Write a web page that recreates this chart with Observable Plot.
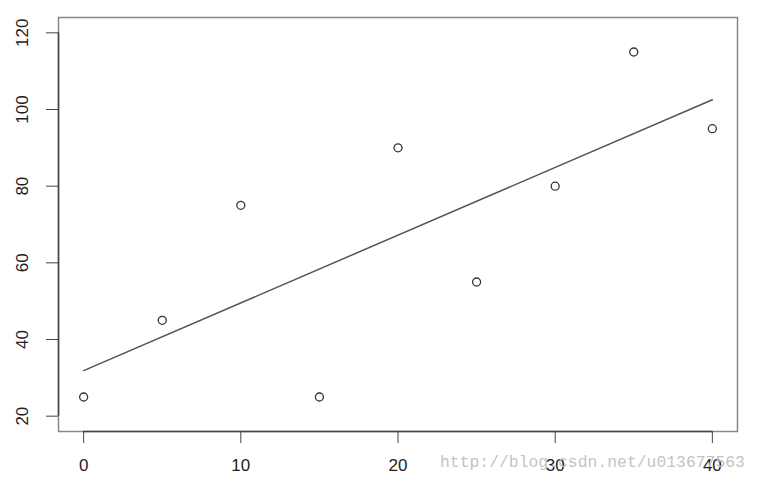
<!DOCTYPE html>
<html>
<head>
<meta charset="utf-8">
<script src="https://cdn.jsdelivr.net/npm/d3@7"></script>
<script src="https://cdn.jsdelivr.net/npm/@observablehq/plot@0.6"></script>
<style>
  html, body { margin: 0; padding: 0; background: #fff; }
  #wrap { position: relative; width: 760px; height: 485px; }
  #wm { position: absolute; left: 440px; top: 453px; font-family: "Liberation Mono", monospace; font-size: 16.4px; color: #c4c4c4; white-space: nowrap; pointer-events: none; }
</style>
</head>
<body>
<div id="wrap"><div id="wm">http://blog.csdn.net/u013677563</div></div>
<script>
const xs = [0, 5, 10, 15, 20, 25, 30, 35, 40];
const ys = [25, 45, 75, 25, 90, 55, 80, 115, 95];
const xTicks = [0, 10, 20, 30, 40];
const yTicks = [20, 40, 60, 80, 100, 120];

const data = xs.map((x, i) => ({x, y: ys[i]}));

const chart = Plot.plot({
  width: 760,
  height: 485,
  marginLeft: 58,
  marginRight: 23,
  marginTop: 17,
  marginBottom: 54,
  style: {fontFamily: "Liberation Sans, Arial, sans-serif", fontSize: "17px", color: "#222", background: "#fff"},
  x: {domain: [-1.6, 41.6], ticks: xTicks},
  y: {domain: [16, 124], ticks: yTicks},
  marks: [
    Plot.frame({stroke: "#888", strokeWidth: 1.5}),
    Plot.ruleY([16], {x1: 0, x2: 40, stroke: "#444", strokeWidth: 1.5}),
    Plot.ruleX([-1.6], {y1: 20, y2: 120, stroke: "#444", strokeWidth: 1.5}),
    Plot.axisX({ticks: xTicks, tickSize: 12, tickPadding: 15, stroke: "#444", fill: "#222", label: null}),
    Plot.axisY({ticks: yTicks, tickSize: 12, tickPadding: 19, tickRotate: -90, stroke: "#444", fill: "#222", label: null}),
    Plot.linearRegressionY(data, {x: "x", y: "y", ci: 0, stroke: "#555", strokeWidth: 1.5}),
    Plot.dot(data, {x: "x", y: "y", r: 4, stroke: "#333", strokeWidth: 1.3, fill: "none"})
  ]
});
document.getElementById("wrap").prepend(chart);
</script>
</body>
</html>
